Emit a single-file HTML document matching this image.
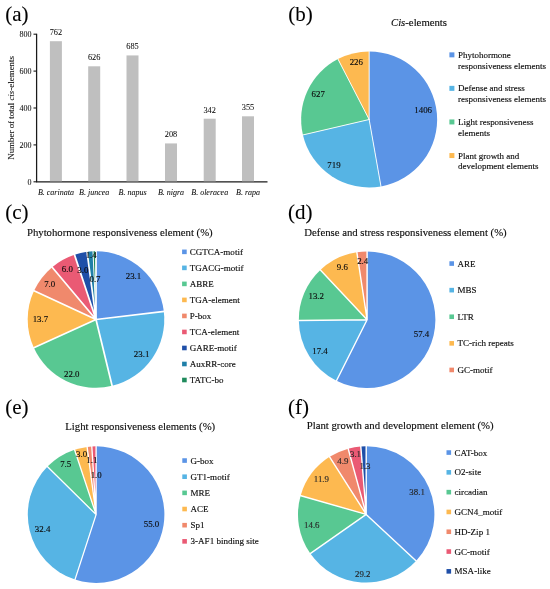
<!DOCTYPE html>
<html><head><meta charset="utf-8"><title>Cis-elements</title>
<style>
html,body{margin:0;padding:0;background:#fff;}
body{width:550px;height:589px;overflow:hidden;font-family:"Liberation Serif",serif;}
svg{display:block;}
text{font-family:"Liberation Serif",serif;fill:#0d0d0d;stroke:#0d0d0d;stroke-width:0.14px;}
.pn{font-size:21px;fill:#000;stroke-width:0.1px;}
.tt{font-size:10.74px;}
.pl{font-size:8.86px;text-anchor:middle;}
.lg{font-size:9.03px;}
.ax{font-size:8px;stroke-width:0.06px;}
.bv{font-size:8.3px;stroke-width:0.06px;}
.bn{font-size:8px;font-style:italic;stroke-width:0.06px;}
.yl{font-size:8.94px;stroke-width:0.08px;}
</style></head><body>
<svg width="550" height="589" viewBox="0 0 550 589">
<rect width="550" height="589" fill="#fff"/>
<text x="5.3" y="21.3" class="pn">(a)</text>
<text x="288.2" y="21.2" class="pn">(b)</text>
<text x="5.3" y="218.6" class="pn">(c)</text>
<text x="288" y="219" class="pn">(d)</text>
<text x="5.3" y="414.4" class="pn">(e)</text>
<text x="288.1" y="414.3" class="pn">(f)</text>
<path d="M36.6,33.7 V181.8 H267.5" fill="none" stroke="#1a1a1a" stroke-width="1.25"/>
<path d="M33.5,181.80 H36.6" stroke="#1a1a1a" stroke-width="1.1"/>
<text x="31.6" y="184.50" class="ax" text-anchor="end">0</text>
<path d="M33.5,144.90 H36.6" stroke="#1a1a1a" stroke-width="1.1"/>
<text x="31.6" y="147.60" class="ax" text-anchor="end">200</text>
<path d="M33.5,108.00 H36.6" stroke="#1a1a1a" stroke-width="1.1"/>
<text x="31.6" y="110.70" class="ax" text-anchor="end">400</text>
<path d="M33.5,71.10 H36.6" stroke="#1a1a1a" stroke-width="1.1"/>
<text x="31.6" y="73.80" class="ax" text-anchor="end">600</text>
<path d="M33.5,34.20 H36.6" stroke="#1a1a1a" stroke-width="1.1"/>
<text x="31.6" y="36.90" class="ax" text-anchor="end">800</text>
<rect x="49.9" y="41.21" width="12" height="140.09" fill="#bfbfbf"/>
<text x="55.9" y="35.21" class="bv" text-anchor="middle">762</text>
<text x="55.9" y="194.6" class="bn" text-anchor="middle">B. carinata</text>
<rect x="88.2" y="66.30" width="12" height="115.00" fill="#bfbfbf"/>
<text x="94.2" y="60.30" class="bv" text-anchor="middle">626</text>
<text x="94.2" y="194.6" class="bn" text-anchor="middle">B. juncea</text>
<rect x="126.5" y="55.42" width="12" height="125.88" fill="#bfbfbf"/>
<text x="132.5" y="49.42" class="bv" text-anchor="middle">685</text>
<text x="132.5" y="194.6" class="bn" text-anchor="middle">B. napus</text>
<rect x="165" y="143.42" width="12" height="37.88" fill="#bfbfbf"/>
<text x="171" y="137.42" class="bv" text-anchor="middle">208</text>
<text x="171" y="194.6" class="bn" text-anchor="middle">B. nigra</text>
<rect x="203.7" y="118.70" width="12" height="62.60" fill="#bfbfbf"/>
<text x="209.7" y="112.70" class="bv" text-anchor="middle">342</text>
<text x="209.7" y="194.6" class="bn" text-anchor="middle">B. oleracea</text>
<rect x="242" y="116.30" width="12" height="65.00" fill="#bfbfbf"/>
<text x="248" y="110.30" class="bv" text-anchor="middle">355</text>
<text x="248" y="194.6" class="bn" text-anchor="middle">B. rapa</text>
<text transform="translate(14,107.9) rotate(-90)" class="yl" text-anchor="middle">Number of total <tspan font-style="italic">cis</tspan>-elements</text>
<text x="419" y="26.4" class="tt" text-anchor="middle"><tspan font-style="italic">Cis</tspan>-elements</text>
<text x="119.8" y="235.7" class="tt" text-anchor="middle">Phytohormone responsiveness element (%)</text>
<text x="405.5" y="235.6" class="tt" text-anchor="middle">Defense and stress responsiveness element (%)</text>
<text x="140.2" y="430.2" class="tt" text-anchor="middle">Light responsiveness elements (%)</text>
<text x="400.2" y="429.3" class="tt" text-anchor="middle">Plant growth and development element (%)</text>
<path d="M369.15,119.50 L369.15,51.50 A68.0,68.0 0 0 1 381.00,186.46 Z" fill="#5b94e6"/>
<path d="M369.15,119.50 L381.00,186.46 A68.0,68.0 0 0 1 302.92,134.93 Z" fill="#56b4e4"/>
<path d="M369.15,119.50 L302.92,134.93 A68.0,68.0 0 0 1 337.94,59.09 Z" fill="#58c892"/>
<path d="M369.15,119.50 L337.94,59.09 A68.0,68.0 0 0 1 369.15,51.50 Z" fill="#fdb950"/>
<path d="M369.15,119.50 L369.15,50.90 M369.15,119.50 L381.10,187.05 M369.15,119.50 L302.34,135.07 M369.15,119.50 L337.66,58.55" fill="none" stroke="#fff" stroke-width="0.9" stroke-linecap="round"/>
<text x="423.2" y="112.6" class="pl">1406</text>
<text x="334" y="168" class="pl">719</text>
<text x="318.2" y="97.3" class="pl">627</text>
<text x="356.3" y="65" class="pl">226</text>
<path d="M96.00,319.50 L96.00,251.20 A68.3,68.3 0 0 1 163.81,311.37 Z" fill="#5b94e6"/>
<path d="M96.00,319.50 L163.81,311.37 A68.3,68.3 0 0 1 112.15,385.86 Z" fill="#56b4e4"/>
<path d="M96.00,319.50 L112.15,385.86 A68.3,68.3 0 0 1 33.84,347.80 Z" fill="#58c892"/>
<path d="M96.00,319.50 L33.84,347.80 A68.3,68.3 0 0 1 34.02,290.81 Z" fill="#fdb950"/>
<path d="M96.00,319.50 L34.02,290.81 A68.3,68.3 0 0 1 52.13,267.15 Z" fill="#f0896c"/>
<path d="M96.00,319.50 L52.13,267.15 A68.3,68.3 0 0 1 74.49,254.68 Z" fill="#ea5a74"/>
<path d="M96.00,319.50 L74.49,254.68 A68.3,68.3 0 0 1 87.01,251.79 Z" fill="#1f4fa8"/>
<path d="M96.00,319.50 L87.01,251.79 A68.3,68.3 0 0 1 93.00,251.27 Z" fill="#1f7fa8"/>
<path d="M96.00,319.50 L93.00,251.27 A68.3,68.3 0 0 1 96.00,251.20 Z" fill="#1f8a5c"/>
<path d="M96.00,319.50 L96.00,250.60 M96.00,319.50 L164.41,311.29 M96.00,319.50 L112.29,386.45 M96.00,319.50 L33.29,348.05 M96.00,319.50 L33.47,290.56 M96.00,319.50 L51.75,266.69 M96.00,319.50 L74.30,254.11 M96.00,319.50 L86.94,251.20" fill="none" stroke="#fff" stroke-width="1.7" stroke-linecap="round"/>
<path d="M96.00,319.50 L92.97,250.67" fill="none" stroke="#fff" stroke-width="0.94" stroke-linecap="round"/>
<text x="133.5" y="278.5" class="pl">23.1</text>
<text x="141.6" y="357" class="pl">23.1</text>
<text x="71.8" y="376.8" class="pl">22.0</text>
<text x="40.4" y="322" class="pl">13.7</text>
<text x="49.7" y="287.2" class="pl">7.0</text>
<text x="67.4" y="271.5" class="pl">6.0</text>
<text x="82.8" y="273" class="pl">3.0</text>
<text x="91.2" y="258.2" class="pl">1.4</text>
<text x="95" y="282.3" class="pl">0.7</text>
<path d="M367.10,319.70 L367.10,251.40 A68.3,68.3 0 1 1 336.48,380.75 Z" fill="#5b94e6"/>
<path d="M367.10,319.70 L336.48,380.75 A68.3,68.3 0 0 1 298.81,320.56 Z" fill="#56b4e4"/>
<path d="M367.10,319.70 L298.81,320.56 A68.3,68.3 0 0 1 320.35,269.91 Z" fill="#58c892"/>
<path d="M367.10,319.70 L320.35,269.91 A68.3,68.3 0 0 1 356.84,252.18 Z" fill="#fdb950"/>
<path d="M367.10,319.70 L356.84,252.18 A68.3,68.3 0 0 1 367.10,251.40 Z" fill="#f0896c"/>
<path d="M367.10,319.70 L367.10,250.80 M367.10,319.70 L336.21,381.29 M367.10,319.70 L298.21,320.57 M367.10,319.70 L319.93,269.47 M367.10,319.70 L356.75,251.58" fill="none" stroke="#fff" stroke-width="1.4" stroke-linecap="round"/>
<text x="421.5" y="337" class="pl">57.4</text>
<text x="320" y="354.1" class="pl">17.4</text>
<text x="316.2" y="299.1" class="pl">13.2</text>
<text x="342.4" y="269.8" class="pl">9.6</text>
<text x="362.7" y="264" class="pl">2.4</text>
<path d="M96.10,514.60 L96.10,446.30 A68.3,68.3 0 1 1 74.99,579.56 Z" fill="#5b94e6"/>
<path d="M96.10,514.60 L74.99,579.56 A68.3,68.3 0 0 1 47.50,466.61 Z" fill="#56b4e4"/>
<path d="M96.10,514.60 L47.50,466.61 A68.3,68.3 0 0 1 74.59,449.78 Z" fill="#58c892"/>
<path d="M96.10,514.60 L74.59,449.78 A68.3,68.3 0 0 1 87.11,446.89 Z" fill="#fdb950"/>
<path d="M96.10,514.60 L87.11,446.89 A68.3,68.3 0 0 1 91.81,446.43 Z" fill="#f0896c"/>
<path d="M96.10,514.60 L91.81,446.43 A68.3,68.3 0 0 1 96.10,446.30 Z" fill="#ea5a74"/>
<path d="M96.10,514.60 L96.10,445.70 M96.10,514.60 L74.81,580.13 M96.10,514.60 L47.08,466.19 M96.10,514.60 L74.40,449.21 M96.10,514.60 L87.04,446.30 M96.10,514.60 L91.77,445.84" fill="none" stroke="#fff" stroke-width="1.3" stroke-linecap="round"/>
<text x="151.5" y="527" class="pl">55.0</text>
<text x="42.6" y="531.9" class="pl">32.4</text>
<text x="65.7" y="467.3" class="pl">7.5</text>
<text x="81.6" y="456.9" class="pl">3.0</text>
<text x="91.9" y="462.7" class="pl">1.1</text>
<text x="96.2" y="478.1" class="pl">1.0</text>
<path d="M366.20,514.40 L366.20,446.20 A68.2,68.2 0 0 1 416.05,560.94 Z" fill="#5b94e6"/>
<path d="M366.20,514.40 L416.05,560.94 A68.2,68.2 0 0 1 310.34,553.52 Z" fill="#56b4e4"/>
<path d="M366.20,514.40 L310.34,553.52 A68.2,68.2 0 0 1 300.63,495.63 Z" fill="#58c892"/>
<path d="M366.20,514.40 L300.63,495.63 A68.2,68.2 0 0 1 329.58,456.86 Z" fill="#fdb950"/>
<path d="M366.20,514.40 L329.58,456.86 A68.2,68.2 0 0 1 348.13,448.64 Z" fill="#f0896c"/>
<path d="M366.20,514.40 L348.13,448.64 A68.2,68.2 0 0 1 360.80,446.41 Z" fill="#ea5a74"/>
<path d="M366.20,514.40 L360.80,446.41 A68.2,68.2 0 0 1 366.20,446.20 Z" fill="#1f4fa8"/>
<path d="M366.20,514.40 L366.20,445.60 M366.20,514.40 L416.49,561.35 M366.20,514.40 L309.85,553.87 M366.20,514.40 L300.06,495.47 M366.20,514.40 L329.26,456.36 M366.20,514.40 L347.97,448.06 M366.20,514.40 L360.75,445.82" fill="none" stroke="#fff" stroke-width="1.4" stroke-linecap="round"/>
<text x="417.1" y="494.7" class="pl" style="fill:#333">38.1</text>
<text x="362.7" y="577" class="pl" style="fill:#333">29.2</text>
<text x="311.8" y="527.5" class="pl" style="fill:#333">14.6</text>
<text x="321.4" y="481.9" class="pl" style="fill:#333">11.9</text>
<text x="342.9" y="463.5" class="pl" style="fill:#333">4.9</text>
<text x="355.5" y="457.2" class="pl" style="fill:#333">3.1</text>
<text x="365" y="469.4" class="pl" style="fill:#333">1.3</text>
<rect x="449.4" y="52.35" width="5" height="5" fill="#5b94e6"/>
<text x="458" y="57.80" class="lg" style="font-size:8.97px">Phytohormone</text>
<text x="458" y="68.70" class="lg" style="font-size:8.97px">responsiveness elements</text>
<rect x="449.4" y="85.85" width="5" height="5" fill="#56b4e4"/>
<text x="458" y="91.30" class="lg" style="font-size:8.97px">Defense and stress</text>
<text x="458" y="102.20" class="lg" style="font-size:8.97px">responsiveness elements</text>
<rect x="449.4" y="119.45" width="5" height="5" fill="#58c892"/>
<text x="458" y="124.90" class="lg" style="font-size:8.97px">Light responsiveness</text>
<text x="458" y="135.80" class="lg" style="font-size:8.97px">elements</text>
<rect x="449.4" y="153.05" width="5" height="5" fill="#fdb950"/>
<text x="458" y="158.50" class="lg" style="font-size:8.97px">Plant growth and</text>
<text x="458" y="169.40" class="lg" style="font-size:8.97px">development elements</text>
<rect x="182.1" y="249.55" width="4.6" height="4.6" fill="#5b94e6"/>
<text x="189.8" y="254.80" class="lg" style="font-size:9.03px">CGTCA-motif</text>
<rect x="182.1" y="265.57" width="4.6" height="4.6" fill="#56b4e4"/>
<text x="189.8" y="270.82" class="lg" style="font-size:9.03px">TGACG-motif</text>
<rect x="182.1" y="281.59" width="4.6" height="4.6" fill="#58c892"/>
<text x="189.8" y="286.84" class="lg" style="font-size:9.03px">ABRE</text>
<rect x="182.1" y="297.61" width="4.6" height="4.6" fill="#fdb950"/>
<text x="189.8" y="302.86" class="lg" style="font-size:9.03px">TGA-element</text>
<rect x="182.1" y="313.63" width="4.6" height="4.6" fill="#f0896c"/>
<text x="189.8" y="318.88" class="lg" style="font-size:9.03px">P-box</text>
<rect x="182.1" y="329.65" width="4.6" height="4.6" fill="#ea5a74"/>
<text x="189.8" y="334.90" class="lg" style="font-size:9.03px">TCA-element</text>
<rect x="182.1" y="345.67" width="4.6" height="4.6" fill="#1f4fa8"/>
<text x="189.8" y="350.92" class="lg" style="font-size:9.03px">GARE-motif</text>
<rect x="182.1" y="361.69" width="4.6" height="4.6" fill="#1f7fa8"/>
<text x="189.8" y="366.94" class="lg" style="font-size:9.03px">AuxRR-core</text>
<rect x="182.1" y="377.71" width="4.6" height="4.6" fill="#1f8a5c"/>
<text x="189.8" y="382.96" class="lg" style="font-size:9.03px">TATC-bo</text>
<rect x="449.4" y="261.25" width="4.6" height="4.6" fill="#5b94e6"/>
<text x="457.5" y="266.50" class="lg" style="font-size:9.03px">ARE</text>
<rect x="449.4" y="287.85" width="4.6" height="4.6" fill="#56b4e4"/>
<text x="457.5" y="293.10" class="lg" style="font-size:9.03px">MBS</text>
<rect x="449.4" y="314.45" width="4.6" height="4.6" fill="#58c892"/>
<text x="457.5" y="319.70" class="lg" style="font-size:9.03px">LTR</text>
<rect x="449.4" y="341.05" width="4.6" height="4.6" fill="#fdb950"/>
<text x="457.5" y="346.30" class="lg" style="font-size:9.03px">TC-rich repeats</text>
<rect x="449.4" y="367.65" width="4.6" height="4.6" fill="#f0896c"/>
<text x="457.5" y="372.90" class="lg" style="font-size:9.03px">GC-motif</text>
<rect x="182.3" y="458.25" width="4.6" height="4.6" fill="#5b94e6"/>
<text x="190.6" y="463.50" class="lg" style="font-size:9.03px">G-box</text>
<rect x="182.3" y="474.41" width="4.6" height="4.6" fill="#56b4e4"/>
<text x="190.6" y="479.66" class="lg" style="font-size:9.03px">GT1-motif</text>
<rect x="182.3" y="490.57" width="4.6" height="4.6" fill="#58c892"/>
<text x="190.6" y="495.82" class="lg" style="font-size:9.03px">MRE</text>
<rect x="182.3" y="506.73" width="4.6" height="4.6" fill="#fdb950"/>
<text x="190.6" y="511.98" class="lg" style="font-size:9.03px">ACE</text>
<rect x="182.3" y="522.89" width="4.6" height="4.6" fill="#f0896c"/>
<text x="190.6" y="528.14" class="lg" style="font-size:9.03px">Sp1</text>
<rect x="182.3" y="539.05" width="4.6" height="4.6" fill="#ea5a74"/>
<text x="190.6" y="544.30" class="lg" style="font-size:9.03px">3-AF1 binding site</text>
<rect x="446.5" y="450.25" width="4.6" height="4.6" fill="#5b94e6"/>
<text x="454.6" y="455.50" class="lg" style="font-size:9.03px">CAT-box</text>
<rect x="446.5" y="470.05" width="4.6" height="4.6" fill="#56b4e4"/>
<text x="454.6" y="475.30" class="lg" style="font-size:9.03px">O2-site</text>
<rect x="446.5" y="489.85" width="4.6" height="4.6" fill="#58c892"/>
<text x="454.6" y="495.10" class="lg" style="font-size:9.03px">circadian</text>
<rect x="446.5" y="509.65" width="4.6" height="4.6" fill="#fdb950"/>
<text x="454.6" y="514.90" class="lg" style="font-size:9.03px">GCN4_motif</text>
<rect x="446.5" y="529.45" width="4.6" height="4.6" fill="#f0896c"/>
<text x="454.6" y="534.70" class="lg" style="font-size:9.03px">HD-Zip 1</text>
<rect x="446.5" y="549.25" width="4.6" height="4.6" fill="#ea5a74"/>
<text x="454.6" y="554.50" class="lg" style="font-size:9.03px">GC-motif</text>
<rect x="446.5" y="569.05" width="4.6" height="4.6" fill="#1f4fa8"/>
<text x="454.6" y="574.30" class="lg" style="font-size:9.03px">MSA-like</text>
</svg>
</body></html>
